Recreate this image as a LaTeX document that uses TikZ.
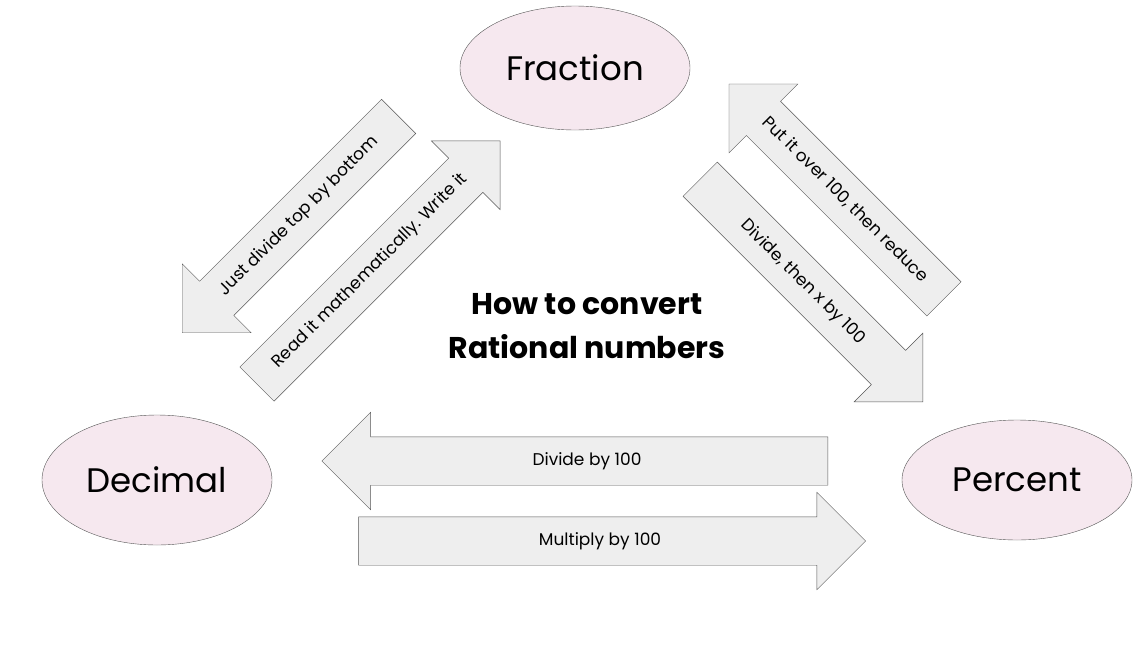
\documentclass[tikz,border=0pt]{standalone}
\usepackage{fontspec}
\setmainfont{Poppins}
\usetikzlibrary{shapes.arrows,shapes.geometric}
\definecolor{pinkfill}{HTML}{F6E8EF}
\definecolor{arrfill}{HTML}{EEEEEE}
\definecolor{edge}{HTML}{555555}
\tikzset{
  oval/.style={ellipse,draw=edge,fill=pinkfill,minimum width=230pt,minimum height=124pt,font=\fontsize{34}{40}\selectfont},
  bigarrow/.style={single arrow,draw=edge,fill=arrfill,single arrow head extend=24.5pt,
     text height=13pt,text depth=4pt,inner ysep=15.5pt,inner xsep=0pt,
     font=\fontsize{17}{20}\selectfont}
}
\begin{document}
\begin{tikzpicture}[x=1pt,y=-1pt]
\useasboundingbox (0,0) rectangle (1140,656);
\node[oval] (fr) at (575,68) {Fraction};
\node[oval,minimum height=130pt] (de) at (157,480) {Decimal};
\node[oval,minimum height=120pt] (pe) at (1017,480) {Percent};
\node[bigarrow,minimum height=506pt,shape border rotate=180] (d100) at (587,461) {Divide by 100};
\node[bigarrow,minimum height=507pt] (m100) at (600,541) {Multiply by 100};
\node[bigarrow,minimum height=306pt,rotate=45,shape border rotate=180] (jd) at (299,216) {Just divide top by bottom};
\node[bigarrow,minimum height=344pt,rotate=45] (rd) at (370,271) {Read it mathematically. Write it};
\node[bigarrow,minimum height=304pt,rotate=-45,shape border rotate=180] (po) at (845,200) {Put it over 100, then reduce};
\node[bigarrow,minimum height=315pt,rotate=-45] (dt) at (803,282) {Divide, then x by 100};
\node[align=center,font=\fontsize{30}{44}\selectfont\bfseries] (title) at (587,326) {How to convert\\Rational numbers};
\end{tikzpicture}
\end{document}
